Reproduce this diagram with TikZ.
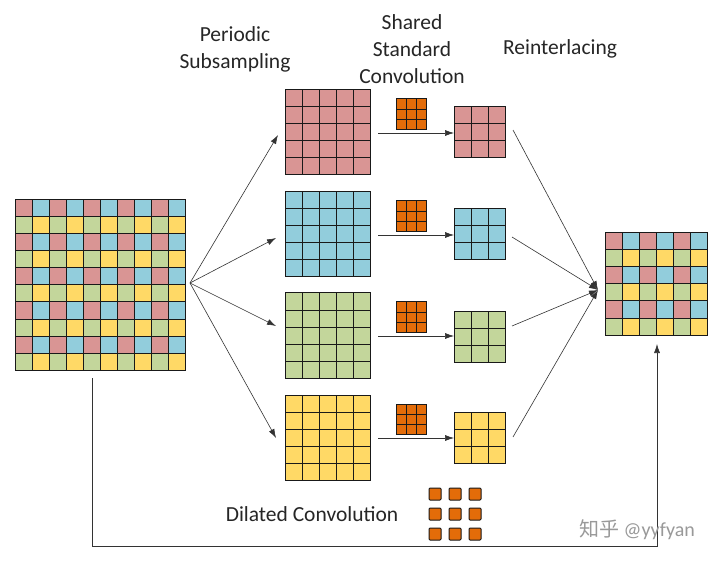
\documentclass[tikz,border=0pt]{standalone}
\usepackage{fontspec}
\setmainfont{Carlito}
\newfontfamily\cjk{Noto Sans CJK SC}
\usetikzlibrary{arrows.meta}
\definecolor{cpink}{HTML}{D99594}
\definecolor{cblue}{HTML}{92CDDC}
\definecolor{cgreen}{HTML}{C3D69B}
\definecolor{cyellow}{HTML}{FFD966}
\definecolor{corange}{HTML}{E36C09}
\tikzset{cell/.style={draw=black!90,line width=1pt},
 arr/.style={-{Latex[length=9pt,width=6pt]},line width=0.6pt,black!80},
 lbl/.style={font=\fontsize{21.5}{27}\selectfont,align=center,text=black!85}}
\newcommand\uniform[6]{%
 \foreach \i in {1,...,#4}{\foreach \j in {1,...,#4}{%
  \path[cell,fill=#6] ({#2+(\i-1)*#5},{#3+(\j-1)*#5}) rectangle ++(#5,#5);}}%
 \node[inner sep=0,minimum width=#4*#5,minimum height=#4*#5,anchor=north west] (#1) at (#2,#3) {};}
\newcommand\mixed[5]{%
 \foreach \i in {1,...,#4}{\foreach \j in {1,...,#4}{%
  \pgfmathtruncatemacro\px{mod(\i-1,2)}\pgfmathtruncatemacro\py{mod(\j-1,2)}%
  \ifnum\py=0 \ifnum\px=0 \def\cc{cpink}\else\def\cc{cblue}\fi
  \else \ifnum\px=0 \def\cc{cgreen}\else\def\cc{cyellow}\fi\fi
  \path[cell,fill=\cc] ({#2+(\i-1)*#5},{#3+(\j-1)*#5}) rectangle ++(#5,#5);}}%
 \node[inner sep=0,minimum width=#4*#5,minimum height=#4*#5,anchor=north west] (#1) at (#2,#3) {};}
\begin{document}
\begin{tikzpicture}[x=1pt,y=-1pt]
\useasboundingbox[fill=white] (0,0) rectangle (720,561);
\mixed{big}{15}{200}{10}{17}
\mixed{out}{605}{233}{6}{17}
\uniform{sa}{285}{90}{5}{17}{cpink}
\uniform{sb}{285}{192}{5}{17}{cblue}
\uniform{sc}{285}{293}{5}{17}{cgreen}
\uniform{sd}{285}{395}{5}{17}{cyellow}
\uniform{ta}{454}{107}{3}{17}{cpink}
\uniform{tb}{454}{209}{3}{17}{cblue}
\uniform{tc}{454}{311}{3}{17}{cgreen}
\uniform{td}{454}{412}{3}{17}{cyellow}
\uniform{ka}{396}{99}{3}{10.3}{corange}
\uniform{kb}{396}{201}{3}{10.3}{corange}
\uniform{kc}{396}{302}{3}{10.3}{corange}
\uniform{kd}{396}{404}{3}{10.3}{corange}
\foreach \i in {0,1,2}{\foreach \j in {0,1,2}{
 \path[cell,fill=corange,rounded corners=1pt] ({429+20*\i},{488+20*\j}) rectangle ++(12,12);}}
\coordinate (fan) at (190,283);
\coordinate (conv) at (598,290);
\draw[arr] (fan) -- (278,135);
\draw[arr] (fan) -- (276,238);
\draw[arr] (fan) -- (276,326);
\draw[arr] (fan) -- (276,438);
\foreach \t/\y in {ta/133,tb/235,tc/336,td/438}{
 \draw[arr] (378,\y) -- (\t.west |- 0,\y);}
\draw[arr] (513,130) -- (conv);
\draw[arr] (512,237) -- (conv);
\draw[arr] (512,326) -- (conv);
\draw[arr] (513,437) -- (conv);
\draw[arr] (92,378) -- (92,546) -- (657,546) -- (657,344);
\node[lbl] (l1) at (235,49) {Periodic\\Subsampling};
\node[lbl] (l2) at (412,49) {Shared\\Standard\\Convolution};
\node[lbl] (l3) at (560,49) {Reinterlacing};
\node[lbl] (l4) at (312,514) {Dilated Convolution};
\node[font=\fontsize{20}{24}\selectfont,text=black!40] (wm) at (637,530) {{\cjk 知乎} @yyfyan};
\end{tikzpicture}
\end{document}
